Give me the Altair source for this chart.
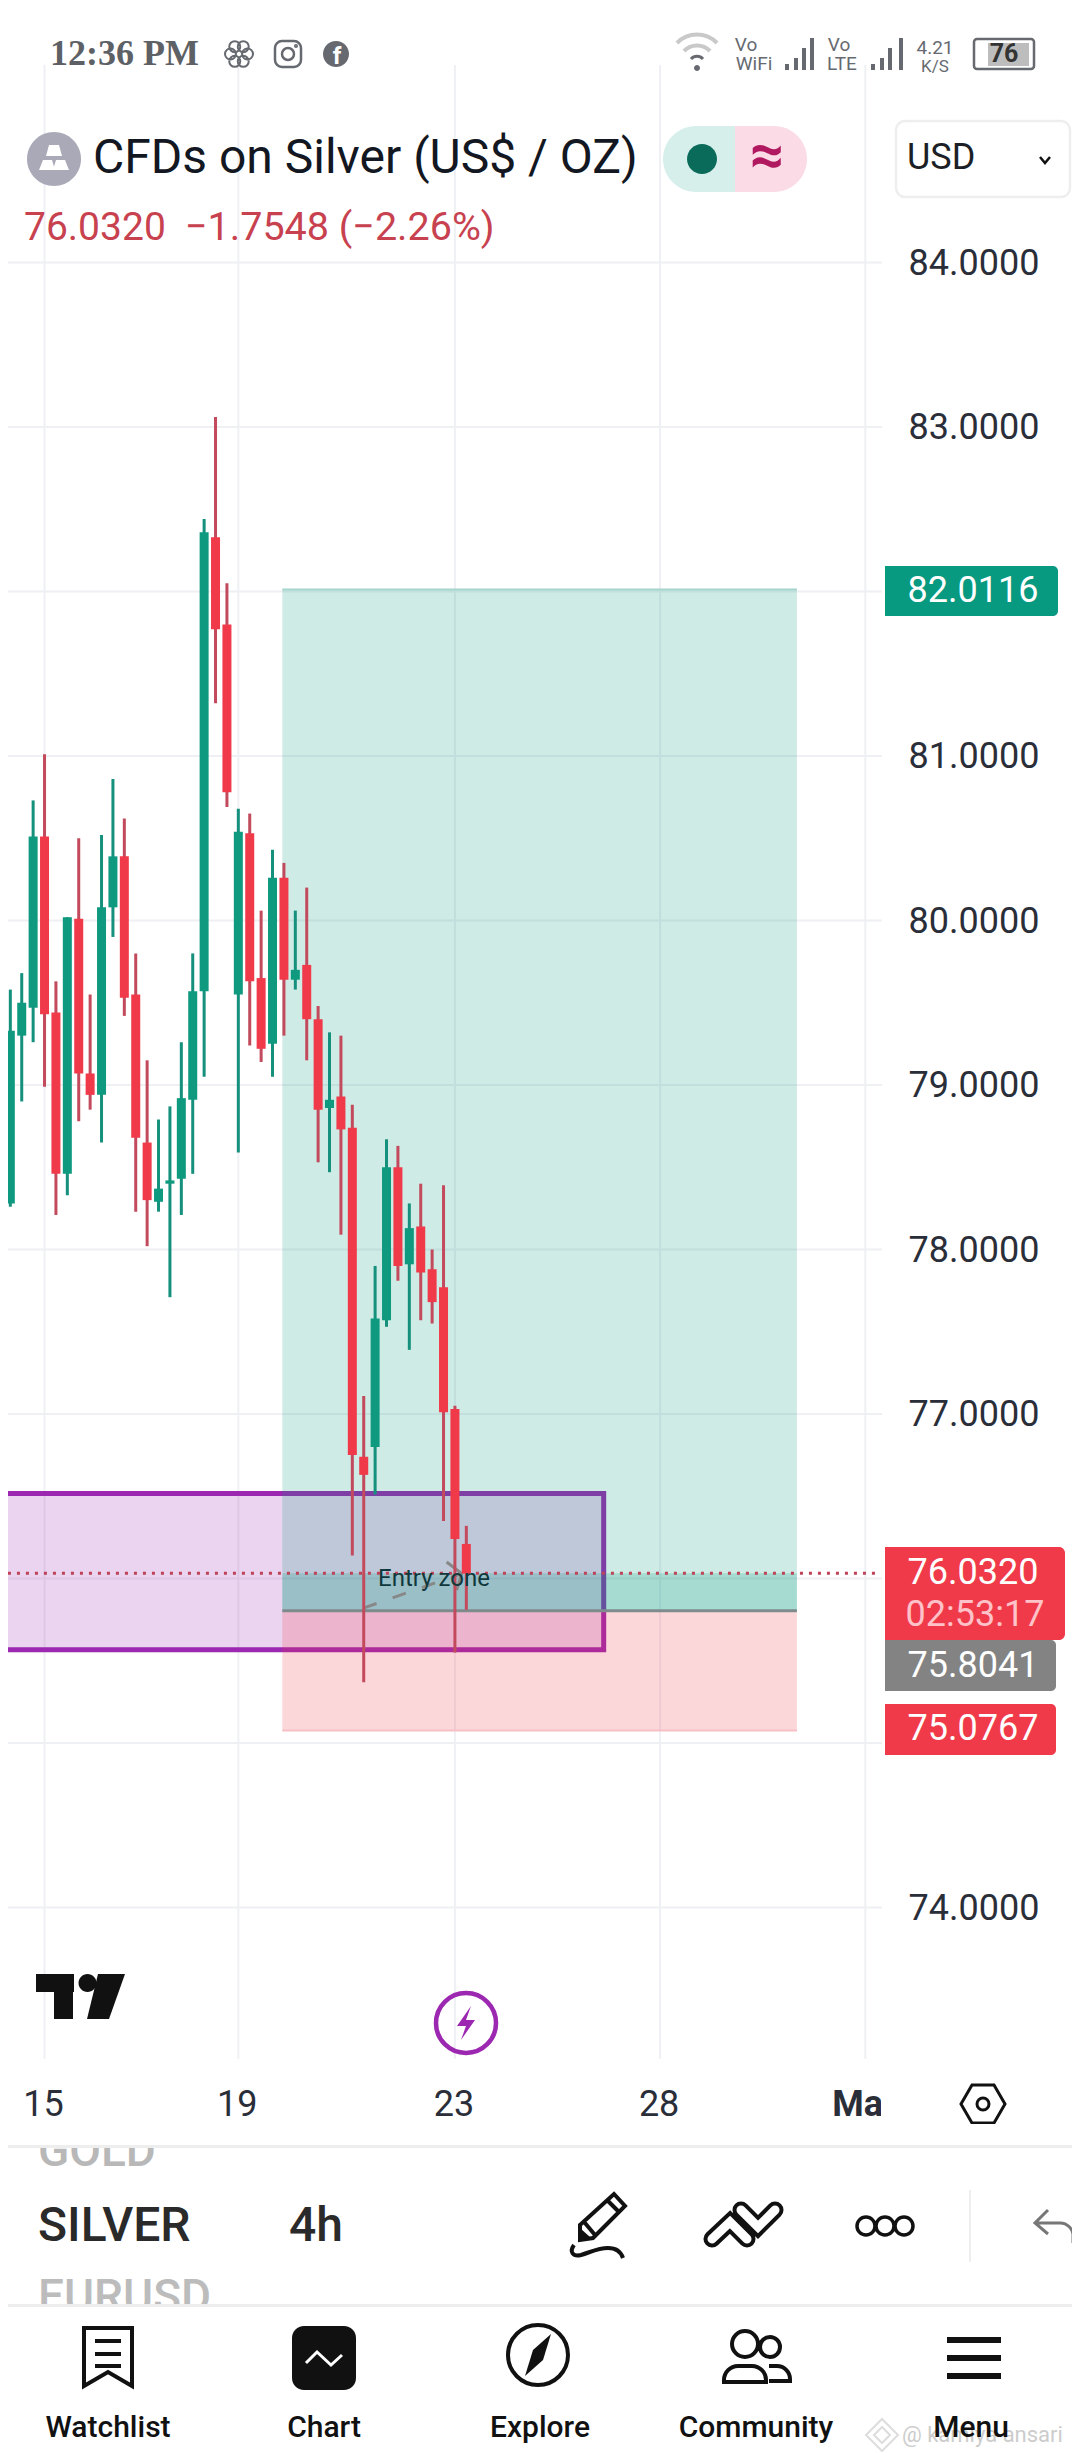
import math
import altair as alt
import pandas as pd

# ---------- chart values ----------
candle_index = list(range(-1, 41))
open_ = [77.77,78.28,79.30,79.47,80.51,79.44,78.46,80.01,79.07,78.94,80.08,80.39,79.55,78.65,78.29,78.40,78.43,78.91,79.57,82.33,81.80,79.55,80.53,79.65,79.25,80.26,79.64,79.73,79.40,78.86,78.93,78.74,76.74,76.80,77.57,78.50,77.91,78.14,77.88,77.77,77.03,76.21]
high = [78.29,79.58,79.68,80.73,81.01,79.63,80.02,80.50,79.55,80.52,80.86,80.62,79.80,79.15,78.79,78.87,79.26,79.80,82.44,83.06,82.05,80.68,80.65,80.06,80.43,80.35,80.06,80.20,79.48,79.32,79.30,78.88,77.11,77.90,78.67,78.63,78.28,78.40,78.00,78.39,77.05,76.32]
low = [77.60,78.26,78.90,79.26,78.99,78.21,78.33,78.78,78.85,78.65,79.90,79.42,78.23,78.02,78.23,77.71,78.21,78.46,79.05,81.32,80.69,78.59,79.24,79.14,79.05,79.30,79.58,79.15,78.53,78.47,78.09,76.14,75.37,76.51,77.53,77.81,77.39,77.57,77.55,76.35,75.55,75.81]
close = [78.29,79.33,79.50,80.51,79.43,78.46,80.02,79.07,78.94,80.08,80.39,79.53,78.68,78.30,78.37,78.42,78.92,79.57,82.36,81.77,80.78,80.54,79.63,79.22,80.26,79.64,79.70,79.40,78.85,78.91,78.73,76.75,76.63,77.58,78.50,77.90,78.13,77.86,77.68,77.01,76.24,76.03]
price_levels = [84, 83, 82, 81, 80, 79, 78, 77, 76, 75, 74]
axis_levels = [84, 83, 82, 81, 80, 79, 78, 77, 74]
date_ticks = [3, 20, 39, 57, 75]
date_labels = ["15", "19", "23", "28", "Mar"]
profit_price = 82.0116
entry_price = 75.8041
stop_price = 75.0767
last_price = 76.0320
zone_top = 76.516
zone_bottom = 75.567
position_from, position_to = 23.86, 69.0
zone_from, zone_to = -1.0, 52.05
arrow_i = [30.97, 39.6]
arrow_p = [75.82, 76.03]
arrow_head_i = [38.27, 39.6, 39.15]
arrow_head_p = [76.10, 76.03, 75.93]
tag_texts = ["82.0116", "76.0320", "02:53:17", "75.8041", "75.0767"]

# ---------- scales ----------
W, H = 1064, 2444
X = alt.Scale(domain=[-0.2044, 93.13], nice=False, zero=False)
Y = alt.Scale(domain=[70.690, 85.547], nice=False, zero=False)
RED, GREEN = "#f03a4a", "#0f9a80"
WICK_RED, WICK_GREEN = "#c34a5c", "#14907c"
GRID = "#eff0f4"

label_expr = "{" + ",".join(f"'{t}':'{l}'" for t, l in zip(date_ticks, date_labels)) + "}[datum.value]"
X_AXIS = alt.Axis(
    orient="bottom", values=date_ticks, labelExpr=label_expr, grid=False, domain=False, ticks=False, title=None,
    offset=-348, labelPadding=0, labelOffset=-1.5, labelFont="Roboto", labelFontSize=36, labelColor="#2a2e39",
    labelBaseline="middle", labelFlush=False, labelOverlap=False,
    labelFontWeight=alt.expr("datum.value == 75 ? 'bold' : 'normal'"))
Y_AXIS = alt.Axis(
    orient="right", values=axis_levels, format=".4f", grid=False, domain=False, ticks=False, title=None,
    offset=-164, labelPadding=0, labelOffset=1, labelFont="Roboto", labelFontSize=36, labelColor="#2a2e39",
    labelBaseline="middle", labelAlign="left", labelFlush=False, labelOverlap=False)


def cx(f="i"):
    return alt.X(f"{f}:Q", scale=X, axis=X_AXIS)


def cy(f="p"):
    return alt.Y(f"{f}:Q", scale=Y, axis=Y_AXIS)


# ---------- data marks ----------
candles = pd.DataFrame({"i": candle_index, "o": open_, "h": high, "l": low, "c": close})
candles["body"] = [GREEN if c >= o else RED for o, c in zip(open_, close)]
candles["wick"] = [WICK_GREEN if c >= o else WICK_RED for o, c in zip(open_, close)]
wicks = alt.Chart(candles).mark_rule(strokeWidth=3).encode(
    x=cx(), y=cy("h"), y2="l:Q", color=alt.Color("wick:N", scale=None))
bodies = alt.Chart(candles).mark_rule(strokeWidth=9).encode(
    x=cx(), y=cy("o"), y2="c:Q", color=alt.Color("body:N", scale=None))


def zone(i0, i1, p0, p1, **mark):
    return alt.Chart(pd.DataFrame({"i": [i0], "j": [i1], "p": [p0], "q": [p1]})).mark_rect(**mark).encode(
        x=cx(), x2="j:Q", y=cy(), y2="q:Q")


def hline(p, i0, i1, **mark):
    return alt.Chart(pd.DataFrame({"i": [i0], "j": [i1], "p": [p]})).mark_rule(**mark).encode(
        x=cx(), x2="j:Q", y=cy())


h_grid = alt.Chart(pd.DataFrame({"p": price_levels, "i": [-1.0] * 11, "j": [76.46] * 11})).mark_rule(
    color=GRID, strokeWidth=2).encode(x=cx(), x2="j:Q", y=cy())
v_grid = alt.Chart(pd.DataFrame({"i": date_ticks, "a": [85.2] * 5, "b": [73.08] * 5})).mark_rule(
    color=GRID, strokeWidth=2).encode(x=cx(), y=cy("a"), y2="b:Q")

arrow = alt.Chart(pd.DataFrame({"i": arrow_i, "p": arrow_p})).mark_line(
    color="#888888", strokeWidth=3, strokeDash=[14, 17]).encode(x=cx(), y=cy())
head = alt.Chart(pd.DataFrame({"i": arrow_head_i, "p": arrow_head_p, "k": [0, 1, 2]})).mark_line(
    color="#888888", strokeWidth=3).encode(x=cx(), y=cy(), order="k:Q")


# ---------- page furniture, in screen pixels ----------
def px(name):
    return alt.X(f"{name}:Q", scale=None, axis=None)


def py(name):
    return alt.Y(f"{name}:Q", scale=None, axis=None)


def boxes(rows, **mark):
    df = pd.DataFrame(rows, columns=["x", "x2", "y", "y2", "c"])
    for k in ("x", "x2", "y", "y2"):
        df[k] = df[k] - 8
    return alt.Chart(df).mark_rect(**mark).encode(
        x=px("x"), x2="x2:Q", y=py("y"), y2="y2:Q", color=alt.Color("c:N", scale=None))


def words(rows, **mark):
    df = pd.DataFrame(rows, columns=["t", "x", "y", "s", "c"])
    df["x"] -= 8
    df["y"] -= 8
    mark.setdefault("font", "Roboto")
    return alt.Chart(df).mark_text(baseline="middle", **mark).encode(
        x=px("x"), y=py("y"), text="t:N",
        size=alt.Size("s:Q", scale=None), color=alt.Color("c:N", scale=None))


def icon(path, x, y, stroke=None, fill=None, sw=3.0, **mark):
    df = pd.DataFrame({"x": [x - 8], "y": [y - 8]})
    opts = dict(shape=path, size=4, opacity=1, strokeWidth=sw, filled=fill is not None)
    if fill is not None:
        opts["fill"] = fill
    if stroke is not None:
        opts["stroke"] = stroke
    opts.update(mark)
    return alt.Chart(df).mark_point(**opts).encode(x=px("x"), y=py("y"))


def circ(a, b, r):
    return f"M{a - r},{b}A{r},{r} 0 1 1 {a + r},{b}A{r},{r} 0 1 1 {a - r},{b}Z"


G = "#666a70"
K = "#111111"
furniture = [
    # status bar
    words([("12:36 PM", 50, 54, 36, "#5d6064")], align="left", font="Liberation Serif", fontWeight="bold"),
    icon("".join(circ(8.5 * math.cos(a * math.pi / 3), 8.5 * math.sin(a * math.pi / 3), 5.5) for a in range(6)),
         239, 54, stroke=G, sw=2),
    icon("M-6,-13H6A7,7 0 0 1 13,-6V6A7,7 0 0 1 6,13H-6A7,7 0 0 1 -13,6V-6A7,7 0 0 1 -6,-13Z" + circ(0, 0, 6) + circ(8, -8, 0.8),
         288, 54, stroke=G, sw=2.5),
    icon(circ(0, 0, 13), 336, 54, fill=G, sw=0),
    words([("f", 337, 57, 24, "#ffffff")], align="center", fontWeight="bold"),
    icon("M-20,-9A28,28 0 0 1 20,-9M-13,-1A18,18 0 0 1 13,-1", 697, 52, stroke="#c9c9c9", sw=4),
    icon("M-6,7A8,8 0 0 1 6,7", 697, 52, stroke=G, sw=3),
    icon(circ(0, 16, 3), 697, 52, fill=G, sw=0),
    words([("Vo", 746, 45, 19, G), ("WiFi", 754, 64, 19, G), ("Vo", 839, 45, 19, G), ("LTE", 842, 64, 19, G),
           ("4.21", 935, 48, 19, G), ("K/S", 935, 67, 17, G)], align="center"),
    boxes([(785, 789, 64, 70, G), (794, 798, 58, 70, G), (802, 806, 48, 70, G), (810, 814, 38, 70, G),
           (871, 875, 64, 70, G), (880, 884, 58, 70, G), (888, 892, 48, 70, G), (899, 903, 38, 70, G),
           (988, 1029, 43, 66, "#bdbdbd")]),
    icon("M-27,-15H27A3,3 0 0 1 30,-12V12A3,3 0 0 1 27,15H-27A3,3 0 0 1 -30,12V-12A3,3 0 0 1 -27,-15Z", 1004, 54, stroke=G, sw=2.5),
    words([("76", 1004, 54, 25, "#333333")], align="center", fontWeight="bold"),
    # header
    icon(circ(0, 0, 27), 54, 159, fill="#a9a9b8", sw=0),
    icon("M-5,-14H5L8,-3H-8ZM-15,11L-11,1H-2L1,11ZM-1,11L2,1H11L15,11Z", 54, 159, fill="#ffffff", sw=0),
    words([("CFDs on Silver (US$ / OZ)", 93, 159, 48, "#131722")], align="left"),
    words([("76.0320", 24, 228, 39, "#c8414f"), ("\u22121.7548 (\u22122.26%)", 185, 228, 39.5, "#c8414f")], align="left"),
    icon("M0,-33H-39A33,33 0 0 0 -39,33H0Z", 735, 159, fill="#d6efeb", sw=0),
    icon("M0,-33H39A33,33 0 0 1 39,33H0Z", 735, 159, fill="#fbdbe6", sw=0),
    icon(circ(0, 0, 15), 702, 159, fill="#0b6b5a", sw=0),
    words([("\u2248", 767, 157, 60, "#b0185f")], align="center", fontWeight="bold"),
    icon("M-78,-38H78A9,9 0 0 1 87,-29V29A9,9 0 0 1 78,38H-78A9,9 0 0 1 -87,29V-29A9,9 0 0 1 -78,-38Z", 983, 159,
         stroke="#eeeeee", fill="#ffffff", sw=2.5),
    words([("USD", 907, 158, 36, "#1c1f26")], align="left"),
    icon("M-5,-3L0,3L5,-3", 1045, 160, stroke=K, sw=2.5),
    # price tags
    boxes([(885, 1058, 566, 616, "#089981")], cornerRadiusTopRight=5, cornerRadiusBottomRight=5),
    boxes([(885, 1065, 1547, 1640, RED)], cornerRadiusTopRight=6, cornerRadiusBottomRight=6),
    boxes([(885, 1056, 1640, 1691, "#838383")], cornerRadiusTopRight=5, cornerRadiusBottomRight=5),
    boxes([(885, 1056, 1704, 1755, RED)], cornerRadiusTopRight=5, cornerRadiusBottomRight=5),
    words([(tag_texts[0], 973, 591, 36, "#ffffff"), (tag_texts[1], 973, 1573, 36, "#ffffff"),
           (tag_texts[2], 975, 1615, 36, "#ffc2c8"), (tag_texts[3], 973, 1666, 36, "#ffffff"),
           (tag_texts[4], 973, 1729, 36, "#ffffff")], align="center"),
    words([("Entry zone", 434, 1579, 24, "#10383c")], align="center"),
    # logo and lightning badge
    icon("M-44,-22H-6V-4H-7V23H-26V-4H-44Z", 80, 1996, fill=K, sw=0),
    icon(circ(7.5, -13, 9), 80, 1996, fill=K, sw=0),
    icon("M18,-22H45L29,23H7Z", 80, 1996, fill=K, sw=0),
    icon(circ(0, 0, 30), 466, 2023, stroke="#9c27b0", sw=4.5),
    icon("M5,-17L-9,3H0L-5,17L9,-3H0Z", 466, 2023, fill="#9c27b0", sw=0),
    # the date strip ends here, cutting the last date label short
    boxes([(881, 1072, 2070, 2140, "#ffffff")]),
    icon("M-11,-19H11L22,0L11,19H-11L-22,0Z", 983, 2104, stroke=K, sw=3),
    icon(circ(0, 0, 6), 983, 2104, stroke=K, sw=3),
    # middle band
    words([("GOLD", 38, 2152, 46, "#b8b8b8")], align="left", fontWeight=500),
    words([("EURUSD", 38, 2298, 46, "#bcbcbc")], align="left", fontWeight=500),
    boxes([(0, 1072, 2124, 2145, "#ffffff"), (0, 1072, 2306, 2340, "#ffffff")]),
    boxes([(0, 1072, 2145, 2148, "#eeeeee"), (0, 1072, 2304, 2307, "#eeeeee"), (969, 971, 2190, 2262, "#eeeeee")]),
    words([("SILVER", 38, 2227, 48, "#2a2a2a")], align="left", fontWeight=500),
    words([("4h", 289, 2227, 48, "#2a2a2a")], align="left", fontWeight=500),
    icon("M-20,-1L14,-32L25,-20L-7,12L-20,14ZM7,-26L19,-14M-15,-3L-5,9", 600, 2226, stroke=K, sw=4),
    icon("M-20,2L-9,12L-20,14Z", 600, 2226, fill=K, sw=0),
    icon("M-26,19C-31,26 -27,31 -19,29C-9,26 -2,22 8,22C16,22 21,26 23,32", 600, 2226, stroke=K, sw=4),
    icon("M-32,14L-14,-3L3,14M-3,-15L14,2L31,-15", 744, 2225, stroke=K, sw=17, strokeCap="round"),
    icon("M-32,14L-14,-3L3,14M-3,-15L14,2L31,-15", 744, 2225, stroke="#ffffff", sw=9, strokeCap="round"),
    icon(circ(-19, 0, 9) + circ(0, 0, 9) + circ(19, 0, 9), 885, 2226, stroke=K, sw=3.5),
    icon("M-5,-15L-18,-2L-5,9M-18,-2H6A13,13 0 0 1 20,12V18", 1053, 2225, stroke="#777777", sw=3),
    # bottom navigation
    icon("M-24,-29H24V29L0,15L-24,29Z", 108, 2357, stroke=K, sw=4),
    icon("M-13,-16H13M-13,-3H13M-13,9H13", 108, 2357, stroke=K, sw=4),
    icon("M-32,-20A12,12 0 0 1 -20,-32H20A12,12 0 0 1 32,-20V20A12,12 0 0 1 20,32H-20A12,12 0 0 1 -32,20Z", 324, 2358, fill=K, sw=0),
    icon("M-18,5L-7,-6L7,7L18,-3", 324, 2358, stroke="#ffffff", sw=3),
    icon(circ(0, 0, 30), 538, 2355, stroke=K, sw=4),
    icon("M13,-21L5,5L-13,21L-5,-5Z", 538, 2355, fill=K, sw=0),
    icon(circ(-12, -10, 13) + circ(13, -7, 10), 757, 2354, stroke=K, sw=4),
    icon("M-33,28V26A14,14 0 0 1 -19,12H-5A14,14 0 0 1 9,26V28ZM12,12H20A13,13 0 0 1 33,25V27H12", 757, 2354, stroke=K, sw=4),
    boxes([(947, 1001, 2337, 2343, K), (947, 1001, 2355, 2361, K), (947, 1001, 2373, 2379, K)]),
    icon("M0,-16L16,0L0,16L-16,0ZM0,-8L8,0L0,8L-8,0Z", 882, 2435, stroke="#dddddd", sw=2),
    words([("@ kamiya ansari", 902, 2435, 22, "#cccccc")], align="left"),
    words([("Watchlist", 108, 2428, 30, K), ("Chart", 324, 2428, 30, K), ("Explore", 540, 2428, 30, K),
           ("Community", 756, 2428, 30, K), ("Menu", 971, 2428, 30, K)], align="center", fontWeight=500),
]

layers = [
    v_grid, h_grid,
    zone(zone_from, zone_to, zone_top, zone_bottom, fill="#9c27b0", fillOpacity=0.2,
         stroke="#9c27b0", strokeWidth=5),
    zone(position_from, position_to, profit_price, entry_price, color="#089981", opacity=0.2),
    zone(position_from, position_to, last_price, entry_price, color="#089981", opacity=0.2),
    zone(position_from, position_to, entry_price, stop_price, color="#f23645", opacity=0.2),
    hline(profit_price, position_from, position_to, color="#a5d5cc", strokeWidth=2),
    hline(stop_price, position_from, position_to, color="#f6c0c5", strokeWidth=2),
    hline(entry_price, position_from, position_to, color="#7f8a8c", strokeWidth=3),
    hline(last_price, -1.0, 75.85, color="#bd4258", strokeWidth=3, strokeDash=[3, 6]),
    arrow, head, wicks, bodies,
] + furniture

chart = alt.layer(*layers).properties(
    width=W, height=H, padding=0, autosize=alt.AutoSizeParams(type="none"), background="#ffffff"
).configure_view(stroke=None).configure_text(font="Roboto")

chart.save("out.html", embed_options={"renderer": "svg", "actions": False})
